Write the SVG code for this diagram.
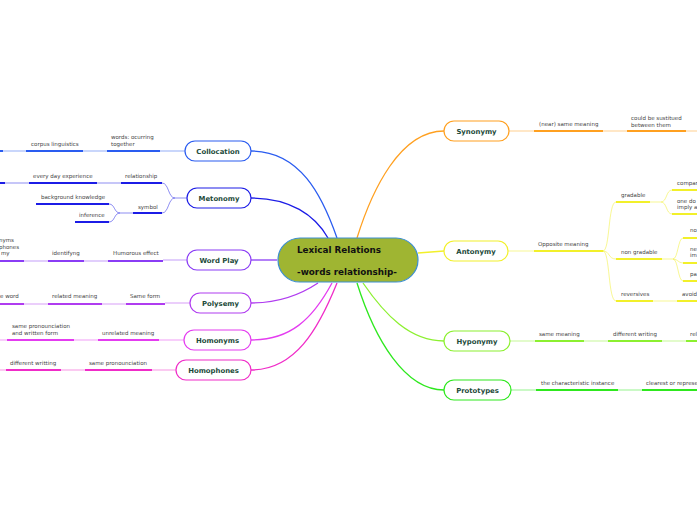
<svg xmlns="http://www.w3.org/2000/svg" width="697" height="520" viewBox="0 0 697 520">
<style>
.t{font-family:"DejaVu Sans",Verdana,sans-serif;font-size:5.5px;fill:#444}
.n{font-family:"DejaVu Sans",Verdana,sans-serif;font-size:6.9px;font-weight:bold;fill:#1c4a3a;text-anchor:middle}
.box{fill:#fff;stroke-width:1.2}
.c{fill:none;stroke-width:1.3}
.u{fill:none;stroke-width:2}
.l{fill:none;stroke-width:1;stroke-opacity:.5}
.or{stroke:#ffa020}.ye{stroke:#f2f02a}.yg{stroke:#8cf030}.gr{stroke:#2ee81e}
.bl{stroke:#2a5cf0}.in{stroke:#1c1ce6}.vi{stroke:#8a3cf5}.pu{stroke:#b03cf0}.ma{stroke:#e43cf0}.pk{stroke:#f02cc8}
</style>
<rect width="697" height="520" fill="#fff"/>
<g id="connectors">
<path class="c or" d="M357,238 C372,190 400,131 444,131"/>
<path class="c ye" d="M418,253 L444,251"/>
<path class="c yg" d="M363,283 C385,315 410,341 444,341"/>
<path class="c gr" d="M357,283 C375,340 405,390 444,390"/>
<path class="c bl" d="M337,238 C322,195 300,151 251,151"/>
<path class="c in" d="M328,238 C315,215 290,198 251,198"/>
<path class="c vi" d="M277,260 L251,260"/>
<path class="c pu" d="M318,283 C300,295 280,303 251,303"/>
<path class="c ma" d="M332,283 C312,320 290,340 251,340"/>
<path class="c pk" d="M337,283 C318,330 295,370 251,370"/>
<path class="l or" d="M509,131 H534 M603,131 H627 M686,131 H697"/>
<path class="l ye" d="M508,251 H534 M603,251 C610,251 608,202 616,202 M603,251 C610,251 608,259 616,259 M603,251 C610,251 608,301 616,301 M650,202 H661 M661,202 C667,202 666,190 672,190 M661,202 C667,202 666,214 672,214 M662,259 H673 M673,259 C678,259 678,238 683,238 M673,259 C678,259 678,263 683,263 M673,259 C678,259 678,281 683,281 M653,301 H677"/>
<path class="l yg" d="M510,341 H535 M584,341 H608 M662,341 H686"/>
<path class="l gr" d="M511,390 H536 M618,390 H642"/>
<path class="l bl" d="M185,151 H160 M107,151 H83 M26,151 H3"/>
<path class="l in" d="M187,198 H175 M175,198 C168,198 169,183 162,183 M175,198 C168,198 169,213 162,213 M121,183 H97 M29,183 H5 M133,213 H120 M120,213 C114,213 115,204 109,204 M120,213 C114,213 115,222 109,222"/>
<path class="l vi" d="M187,260 H163 M108,261 H84 M48,261 H24"/>
<path class="l pu" d="M190,303 H165 M126,304 H102 M48,304 H24"/>
<path class="l ma" d="M184,340 H159 M98,340 H74 M7,340 H0"/>
<path class="l pk" d="M176,370 H152 M85,370 H61 M6,370 H0"/>
</g>
<g id="center">
<rect x="278" y="238" width="140" height="44" rx="22" fill="#9fb532" stroke="#3d8fd1" stroke-width="1.2"/>
<text x="297" y="253" font-family="DejaVu Sans,Verdana,sans-serif" font-size="8.8" font-weight="bold" fill="#111">Lexical Relations</text>
<text x="297" y="275" font-family="DejaVu Sans,Verdana,sans-serif" font-size="8.8" font-weight="bold" fill="#111">-words relationship-</text>
</g>
<g id="synonymy">
<rect class="box or" x="444" y="121" width="65" height="20" rx="10"/>
<text class="n" x="476.5" y="133.5">Synonymy</text>
</g>
<g id="syn-1"><path class="u or" d="M534,131 H603"/><text class="t" x="539" y="126">(near) same meaning</text></g>
<g id="syn-2"><path class="u or" d="M627,131 H686"/><text class="t" x="631" y="120">could be sustitued</text><text class="t" x="631" y="127">between them</text></g>
<g id="antonymy">
<rect class="box ye" x="444" y="241" width="64" height="20" rx="10"/>
<text class="n" x="476" y="253.5">Antonymy</text>
</g>
<g id="ant-1"><path class="u ye" d="M534,251 H603"/><text class="t" x="538" y="246">Opposite meaning</text></g>
<g id="ant-gradable"><path class="u ye" d="M616,202 H650"/><text class="t" x="621" y="197">gradable</text></g>
<g id="ant-g1"><path class="u ye" d="M672,190 H697"/><text class="t" x="677" y="185">compar</text></g>
<g id="ant-g2"><path class="u ye" d="M672,214 H697"/><text class="t" x="677" y="203">one do</text><text class="t" x="677" y="209">imply a</text></g>
<g id="ant-nongradable"><path class="u ye" d="M616,259 H662"/><text class="t" x="621" y="254">non gradable</text></g>
<g id="ant-n1"><path class="u ye" d="M683,238 H697"/><text class="t" x="690" y="232">no</text></g>
<g id="ant-n2"><path class="u ye" d="M683,263 H697"/><text class="t" x="690" y="251">ne</text><text class="t" x="690" y="257">im</text></g>
<g id="ant-n3"><path class="u ye" d="M683,281 H697"/><text class="t" x="690" y="276">pa</text></g>
<g id="ant-reversives"><path class="u ye" d="M616,301 H653"/><text class="t" x="621" y="296">reversives</text></g>
<g id="ant-r1"><path class="u ye" d="M677,301 H697"/><text class="t" x="682" y="296">avoid</text></g>
<g id="hyponymy">
<rect class="box yg" x="444" y="331" width="66" height="20" rx="10"/>
<text class="n" x="477" y="343.5">Hyponymy</text>
</g>
<g id="hyp-1"><path class="u yg" d="M535,341 H584"/><text class="t" x="539" y="336">same meaning</text></g>
<g id="hyp-2"><path class="u yg" d="M608,341 H662"/><text class="t" x="613" y="336">different writing</text></g>
<g id="hyp-3"><path class="u yg" d="M686,341 H697"/><text class="t" x="690" y="336">rel</text></g>
<g id="prototypes">
<rect class="box gr" x="444" y="380" width="67" height="20" rx="10"/>
<text class="n" x="477.5" y="392.5">Prototypes</text>
</g>
<g id="pro-1"><path class="u gr" d="M536,390 H618"/><text class="t" x="541" y="385">the characteristic instance</text></g>
<g id="pro-2"><path class="u gr" d="M642,390 H697"/><text class="t" x="646" y="385">clearest or represe</text></g>
<g id="collocation">
<rect class="box bl" x="185" y="141" width="66" height="20" rx="10"/>
<text class="n" x="218" y="153.5">Collocation</text>
</g>
<g id="col-1"><path class="u bl" d="M160,151 H107"/><text class="t" x="111" y="139">words: ocurring</text><text class="t" x="111" y="146">together</text></g>
<g id="col-2"><path class="u bl" d="M83,151 H26"/><text class="t" x="31" y="146">corpus linguistics</text></g>
<g id="col-3"><path class="u bl" d="M3,151 H0"/></g>
<g id="metonomy">
<rect class="box in" x="187" y="188" width="64" height="20" rx="10"/>
<text class="n" x="219" y="200.5">Metonomy</text>
</g>
<g id="met-1"><path class="u in" d="M162,183 H121"/><text class="t" x="125" y="178">relationship</text></g>
<g id="met-2"><path class="u in" d="M97,183 H29"/><text class="t" x="33" y="178">every day experience</text></g>
<g id="met-3"><path class="u in" d="M5,183 H0"/></g>
<g id="met-4"><path class="u in" d="M162,213 H133"/><text class="t" x="138" y="209">symbol</text></g>
<g id="met-5"><path class="u in" d="M109,204 H36"/><text class="t" x="41" y="199">background knowledge</text></g>
<g id="met-6"><path class="u in" d="M109,222 H75"/><text class="t" x="79" y="217">inference</text></g>
<g id="wordplay">
<rect class="box vi" x="187" y="250" width="64" height="20" rx="10"/>
<text class="n" x="219" y="262.5">Word Play</text>
</g>
<g id="wp-1"><path class="u vi" d="M163,261 H108"/><text class="t" x="113" y="255">Humorous effect</text></g>
<g id="wp-2"><path class="u vi" d="M84,261 H48"/><text class="t" x="52" y="255">identifyng</text></g>
<g id="wp-3"><path class="u vi" d="M24,261 H0"/><text class="t" x="-1" y="242">nyms</text><text class="t" x="-1" y="249">phones</text><text class="t" x="1" y="255">my</text></g>
<g id="polysemy">
<rect class="box pu" x="190" y="293" width="61" height="20" rx="10"/>
<text class="n" x="220.5" y="305.5">Polysemy</text>
</g>
<g id="pol-1"><path class="u pu" d="M165,304 H126"/><text class="t" x="130" y="298">Same form</text></g>
<g id="pol-2"><path class="u pu" d="M102,304 H48"/><text class="t" x="52" y="298">related meaning</text></g>
<g id="pol-3"><path class="u pu" d="M24,304 H0"/><text class="t" x="0" y="298">e word</text></g>
<g id="homonyms">
<rect class="box ma" x="184" y="330" width="67" height="20" rx="10"/>
<text class="n" x="217.5" y="342.5">Homonyms</text>
</g>
<g id="hom-1"><path class="u ma" d="M159,340 H98"/><text class="t" x="102" y="335">unrelated meaning</text></g>
<g id="hom-2"><path class="u ma" d="M74,340 H7"/><text class="t" x="12" y="328">same pronounciation</text><text class="t" x="12" y="335">and written form</text></g>
<g id="homophones">
<rect class="box pk" x="176" y="360" width="75" height="20" rx="10"/>
<text class="n" x="213.5" y="372.5">Homophones</text>
</g>
<g id="hph-1"><path class="u pk" d="M152,370 H85"/><text class="t" x="89" y="365">same pronounciation</text></g>
<g id="hph-2"><path class="u pk" d="M61,370 H6"/><text class="t" x="10" y="365">different writting</text></g>
</svg>
